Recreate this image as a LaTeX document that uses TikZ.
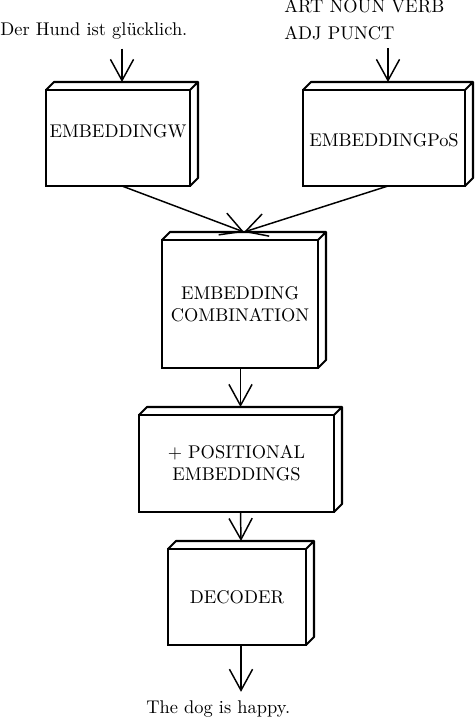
\documentclass[tikz,border=0pt]{standalone}
\usetikzlibrary{arrows.meta}
\begin{document}
\begin{tikzpicture}[x=0.5435pt, y=-0.5435pt,
  box3d/.style={draw, line width=1.1pt, inner sep=0pt, outer sep=0pt, align=center, minimum height=52.18pt},
  boxline/.style={line width=1.1pt, line join=round},
  arr/.style={line width=0.8pt, -{Straight Barb[length=11.5pt, width=12.6pt]}},
  lbl/.style={inner xsep=0pt}
]
\useasboundingbox (0,0) rectangle (474,718);
\def\dd{4.35pt}
% input texts
\node[lbl, inner ysep=5.1pt, anchor=base west] (t1) at (0,35) {Der Hund ist glücklich.};
\node[lbl, inner ysep=4.35pt, anchor=south west, align=left] (t2) at (284,48) {ART NOUN VERB\\[2.7pt]ADJ PUNCT};
% boxes
\node[box3d, minimum width=78.26pt] (b1) at (118,138) {\raisebox{3.6pt}[6.83pt][0pt]{EMBEDDINGW}};
\node[box3d, minimum width=88.05pt] (b2) at (384,138) {\raisebox{-1.4pt}[6.83pt][0pt]{EMBEDDINGPoS}};
\node[box3d, minimum width=84.79pt, minimum height=69.57pt] (b3) at (240,304) {EMBEDDING\\COMBINATION};
\node[box3d, minimum width=105.98pt, minimum height=52.72pt] (b4) at (236.5,463.5) {+ POSITIONAL\\EMBEDDINGS};
\node[box3d, minimum width=75pt] (b5) at (237,597) {DECODER};
% output text
\node[lbl, inner ysep=4.35pt, anchor=base west] (t3) at (146,713) {The dog is happy.};
% 3D faces
\foreach \n in {b1,b2,b3,b4,b5} {
  \draw[boxline] (\n.north west) -- ++(\dd,\dd) -- ([shift={(\dd,\dd)}]\n.north east)
     -- ([shift={(\dd,\dd)}]\n.south east) -- (\n.south east)
     (\n.north east) -- ++(\dd,\dd);
  \coordinate (\n top) at ([shift={(2.175pt,\dd)}]\n.north);
  \coordinate (\n bot) at ([xshift=2.175pt]\n.south);
}
% connectors
\draw[arr] (t1.south -| b1top) -- (b1top);
\draw[arr] (t2.south -| b2top) -- (b2top);
\draw[arr] (b1bot) -- (b3top);
\draw[arr] (b2bot) -- (b3top);
\draw[arr] (b3.south -| b4top) -- (b4top);
\draw[arr] (b4bot) -- (b5top);
\draw[arr] (b5bot) -- (b5bot |- t3.north);
\end{tikzpicture}
\end{document}
